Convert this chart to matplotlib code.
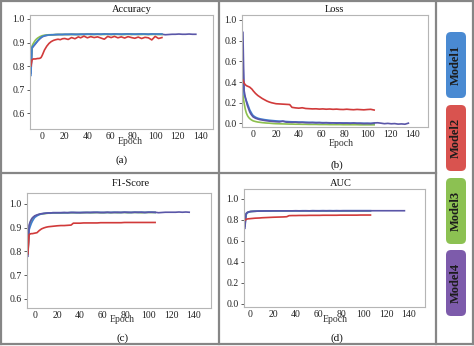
import matplotlib
matplotlib.use("Agg")
import matplotlib.pyplot as plt
from matplotlib.lines import Line2D
from matplotlib.patches import FancyBboxPatch

plt.rcParams['font.family'] = ['Liberation Serif', 'DejaVu Serif']

W, H = 474, 346   # output size in pixels (dpi 100)

# ---- epochs -------------------------------------------------------------
TAIL = [2, 4, 6, 8, 10, 12, 14, 16, 18, 20, 23, 26, 29, 32,
        34, 37, 40, 43, 46, 49, 52, 55, 58, 61, 64, 67, 70, 73, 76, 79,
        82, 85, 88, 91, 94, 97, 100, 103, 106]
TAIL_EXTRA = [109, 112, 115, 118, 121, 124, 127, 130, 133, 136]

ACC_HEAD = [-10, -9, -8, -7, -6, -5, -4, -3, -2, -1, 0]
LOSS_HEAD = [-9, -8, -7, -6, -5, -4, -3, -2, -1, 0]
F1_HEAD = [-6, -5, -4, -3, -2, -1, 0]
AUC_HEAD = [-5, -4, -3, -2, -1, 0]

# ---- accuracy -----------------------------------------------------------
acc_m1 = [0.76, 0.88, 0.885, 0.89, 0.896, 0.902, 0.908, 0.913, 0.918, 0.922, 0.925,
          0.929, 0.931, 0.932, 0.933, 0.933, 0.934, 0.934, 0.934, 0.934, 0.935,
          0.935, 0.935, 0.934, 0.935,
          0.935, 0.935, 0.936, 0.935, 0.935, 0.936, 0.935, 0.936, 0.936, 0.935,
          0.936, 0.936, 0.935, 0.936, 0.936, 0.936, 0.935, 0.936, 0.936, 0.936,
          0.935, 0.936, 0.936, 0.936, 0.936]
acc_m2 = [0.80, 0.826, 0.83, 0.83, 0.83, 0.831, 0.832, 0.832, 0.833, 0.836, 0.845,
          0.868, 0.884, 0.896, 0.904, 0.909, 0.912, 0.914, 0.912, 0.916, 0.917,
          0.913, 0.921, 0.916, 0.924,
          0.92, 0.927, 0.92, 0.925, 0.921, 0.924, 0.919, 0.914, 0.926, 0.921,
          0.926, 0.92, 0.924, 0.919, 0.925, 0.921, 0.918, 0.923, 0.917, 0.922,
          0.92, 0.911, 0.926, 0.917, 0.921]
acc_m3 = [0.80, 0.885, 0.895, 0.903, 0.91, 0.915, 0.919, 0.922, 0.925, 0.927, 0.929,
          0.931, 0.932, 0.933, 0.933, 0.933, 0.934, 0.934, 0.934, 0.934, 0.934,
          0.934, 0.934, 0.934, 0.934,
          0.934, 0.934, 0.935, 0.934, 0.934, 0.935, 0.934, 0.934, 0.935, 0.934,
          0.934, 0.935, 0.934, 0.934, 0.935, 0.934, 0.935, 0.934, 0.934, 0.935,
          0.934, 0.934, 0.935, 0.934, 0.934]
acc_m4 = [0.77, 0.875, 0.882, 0.888, 0.894, 0.90, 0.906, 0.911, 0.916, 0.92, 0.924,
          0.928, 0.93, 0.932, 0.932, 0.933, 0.933, 0.934, 0.934, 0.934, 0.934,
          0.934, 0.935, 0.935, 0.934,
          0.935, 0.935, 0.935, 0.936, 0.935, 0.935, 0.935, 0.936, 0.935, 0.935,
          0.936, 0.935, 0.935, 0.935, 0.936, 0.935, 0.935, 0.935, 0.936, 0.935,
          0.935, 0.936, 0.935, 0.935, 0.935,
          0.933, 0.934, 0.935, 0.935, 0.936, 0.935, 0.935, 0.936, 0.935, 0.935]

# ---- loss ---------------------------------------------------------------
loss_m1 = [0.6, 0.28, 0.25, 0.22, 0.19, 0.16, 0.13, 0.11, 0.09, 0.075,
           0.06, 0.05, 0.044, 0.04, 0.036, 0.033, 0.03, 0.028, 0.026, 0.024,
           0.022, 0.02, 0.018, 0.016,
           0.015, 0.014, 0.013, 0.012, 0.011, 0.01, 0.009, 0.009, 0.008, 0.007,
           0.007, 0.006, 0.005, 0.005, 0.004, 0.004, 0.003, 0.003, 0.002, 0.002,
           0.001, 0.001, 0.0, 0.0, 0.0]
loss_m2 = [0.42, 0.39, 0.375, 0.365, 0.36, 0.355, 0.35, 0.34, 0.33, 0.315,
           0.29, 0.27, 0.255, 0.24, 0.228, 0.216, 0.207, 0.2, 0.195, 0.19,
           0.188, 0.186, 0.184, 0.182,
           0.155, 0.15, 0.147, 0.151, 0.144, 0.142, 0.14, 0.141, 0.138, 0.14,
           0.137, 0.139, 0.136, 0.138, 0.135, 0.134, 0.137, 0.134, 0.132, 0.135,
           0.133, 0.131, 0.134, 0.136, 0.129]
loss_m3 = [0.27, 0.2, 0.14, 0.1, 0.075, 0.058, 0.046, 0.037, 0.03, 0.024,
           0.018, 0.013, 0.01, 0.007, 0.005, 0.003, 0.002, 0.0, -0.002, -0.003,
           -0.004, -0.005, -0.006, -0.007,
           -0.007, -0.008, -0.008, -0.009, -0.009, -0.01, -0.01, -0.01, -0.011, -0.011,
           -0.011, -0.012, -0.012, -0.012, -0.012, -0.013, -0.013, -0.013, -0.013, -0.013,
           -0.014, -0.014, -0.014, -0.014, -0.014]
loss_m4 = [0.88, 0.32, 0.26, 0.21, 0.17, 0.14, 0.11, 0.09, 0.075, 0.062,
           0.05, 0.042, 0.036, 0.032, 0.028, 0.025, 0.022, 0.02, 0.018, 0.016,
           0.014, 0.022, 0.012, 0.011,
           0.01, 0.012, 0.008, 0.01, 0.007, 0.006, 0.008, 0.005, 0.007, 0.004,
           0.006, 0.003, 0.005, 0.002, 0.004, 0.001, 0.003, 0.0, 0.004, 0.0,
           0.001, -0.002, 0.0, -0.002, 0.004,
           0.006, 0.002, -0.003, 0.0, -0.004, -0.002, -0.007, -0.005, -0.008, 0.002]

# ---- F1-score -----------------------------------------------------------
f1_m1 = [0.80, 0.89, 0.905, 0.918, 0.928, 0.936, 0.943,
         0.95, 0.955, 0.958, 0.96, 0.961, 0.962, 0.962, 0.963, 0.963, 0.963,
         0.963, 0.963, 0.963, 0.964,
         0.964, 0.963, 0.964, 0.964, 0.964, 0.964, 0.964, 0.965, 0.964, 0.964,
         0.964, 0.964, 0.965, 0.964, 0.964, 0.965, 0.964, 0.964, 0.965, 0.964,
         0.965, 0.964, 0.965, 0.965, 0.964]
f1_m2 = [0.79, 0.87, 0.874, 0.875, 0.875, 0.876, 0.877,
         0.879, 0.888, 0.895, 0.899, 0.902, 0.904, 0.905, 0.906, 0.907, 0.908,
         0.909, 0.909, 0.91, 0.911,
         0.919, 0.919, 0.919, 0.92, 0.92, 0.92, 0.92, 0.92, 0.921, 0.921,
         0.921, 0.921, 0.921, 0.921, 0.921, 0.922, 0.922, 0.922, 0.922, 0.922,
         0.922, 0.922, 0.922, 0.922, 0.922]
f1_m3 = [0.79, 0.90, 0.92, 0.93, 0.938, 0.944, 0.948,
         0.952, 0.956, 0.958, 0.959, 0.96, 0.961, 0.961, 0.962, 0.962, 0.962,
         0.962, 0.962, 0.963, 0.963,
         0.963, 0.963, 0.963, 0.963, 0.964, 0.963, 0.963, 0.964, 0.963, 0.963,
         0.964, 0.963, 0.964, 0.963, 0.964, 0.964, 0.963, 0.964, 0.964, 0.964,
         0.963, 0.964, 0.964, 0.964, 0.964]
f1_m4 = [0.78, 0.91, 0.925, 0.935, 0.942, 0.946, 0.95,
         0.954, 0.957, 0.959, 0.96, 0.961, 0.962, 0.962, 0.963, 0.963, 0.963,
         0.963, 0.964, 0.963, 0.964,
         0.964, 0.964, 0.963, 0.964, 0.964, 0.964, 0.965, 0.964, 0.964, 0.964,
         0.965, 0.964, 0.964, 0.965, 0.964, 0.965, 0.965, 0.964, 0.965, 0.965,
         0.965, 0.964, 0.965, 0.965, 0.965,
         0.963, 0.964, 0.965, 0.965, 0.965, 0.965, 0.966, 0.965, 0.966, 0.965]

# ---- AUC ----------------------------------------------------------------
auc_m1 = [0.74, 0.85, 0.865, 0.872, 0.876, 0.879,
          0.881, 0.882, 0.883, 0.884, 0.884, 0.885, 0.885, 0.885, 0.885, 0.886,
          0.886, 0.886, 0.886, 0.886,
          0.886, 0.886, 0.886, 0.886, 0.887, 0.886, 0.886, 0.887, 0.886, 0.887,
          0.887, 0.886, 0.887, 0.887, 0.887, 0.886, 0.887, 0.887, 0.887, 0.887,
          0.887, 0.887, 0.887, 0.887, 0.887]
auc_m2 = [0.795, 0.805, 0.808, 0.81, 0.811, 0.812,
          0.814, 0.816, 0.817, 0.818, 0.82, 0.821, 0.822, 0.823, 0.824, 0.825,
          0.826, 0.827, 0.828, 0.83,
          0.84, 0.841, 0.841, 0.842, 0.842, 0.842, 0.843, 0.843, 0.843, 0.843,
          0.844, 0.844, 0.844, 0.844, 0.844, 0.845, 0.845, 0.845, 0.845, 0.845,
          0.845, 0.846, 0.846, 0.846, 0.846]
auc_m3 = [0.76, 0.855, 0.868, 0.874, 0.877, 0.879,
          0.881, 0.882, 0.883, 0.883, 0.884, 0.884, 0.885, 0.885, 0.885, 0.885,
          0.885, 0.886, 0.886, 0.886,
          0.886, 0.886, 0.886, 0.886, 0.886, 0.886, 0.886, 0.886, 0.886, 0.886,
          0.886, 0.886, 0.886, 0.886, 0.886, 0.886, 0.886, 0.886, 0.886, 0.886,
          0.886, 0.886, 0.886, 0.886, 0.886]
auc_m4 = [0.72, 0.86, 0.87, 0.875, 0.878, 0.88,
          0.881, 0.882, 0.883, 0.884, 0.884, 0.885, 0.885, 0.885, 0.885, 0.886,
          0.886, 0.886, 0.886, 0.886,
          0.886, 0.886, 0.887, 0.886, 0.886, 0.887, 0.886, 0.887, 0.887, 0.886,
          0.887, 0.887, 0.887, 0.886, 0.887, 0.887, 0.887, 0.887, 0.887, 0.887,
          0.887, 0.887, 0.887, 0.887, 0.887,
          0.887, 0.887, 0.887, 0.887, 0.887, 0.887, 0.887, 0.887, 0.887, 0.887]

MODELS = ['Model1', 'Model2', 'Model3', 'Model4']
LINE_COLORS = {'Model1': '#3f7fcf', 'Model2': '#d13a3a',
               'Model3': '#8dbf4e', 'Model4': '#5a56a8'}
BOX_COLORS = ['#4a8ad2', '#d9534f', '#8cc152', '#7d5bab']

XTICKS = [0, 20, 40, 60, 80, 100, 120, 140]


def px_rect(l, t, r, b):
    return [l / W, 1 - b / H, (r - l) / W, (b - t) / H]


fig = plt.figure(figsize=(W / 100, H / 100), dpi=100)

panels = [
    dict(rect=(30, 15, 213, 129), head=ACC_HEAD, xlim=(-10.8, 151.2), ylim=(0.532, 1.017),
         yticks=[0.6, 0.7, 0.8, 0.9, 1.0], title='Accuracy', title_xy=(132, 9),
         epoch_xy=(130, 141), letter='(a)', letter_xy=(122, 160),
         series={'Model4': acc_m4, 'Model3': acc_m3, 'Model1': acc_m1, 'Model2': acc_m2}),
    dict(rect=(242, 15, 428, 127), head=LOSS_HEAD, xlim=(-9.8, 153.2), ylim=(-0.035, 1.048),
         yticks=[0.0, 0.2, 0.4, 0.6, 0.8, 1.0], title='Loss', title_xy=(334, 9),
         epoch_xy=(341, 143), letter='(b)', letter_xy=(337, 165),
         series={'Model3': loss_m3, 'Model1': loss_m1, 'Model4': loss_m4, 'Model2': loss_m2}),
    dict(rect=(27, 193, 211, 308), head=F1_HEAD, xlim=(-6.8, 155.2), ylim=(0.562, 1.046),
         yticks=[0.6, 0.7, 0.8, 0.9, 1.0], title='F1-Score', title_xy=(131, 184),
         epoch_xy=(122, 320), letter='(c)', letter_xy=(123, 338),
         series={'Model3': f1_m3, 'Model1': f1_m1, 'Model4': f1_m4, 'Model2': f1_m2}),
    dict(rect=(244, 189, 425, 307), head=AUC_HEAD, xlim=(-5.8, 154.2), ylim=(-0.03, 1.094),
         yticks=[0.0, 0.2, 0.4, 0.6, 0.8, 1.0], title='AUC', title_xy=(341, 184),
         epoch_xy=(335, 320), letter='(d)', letter_xy=(337, 338),
         series={'Model3': auc_m3, 'Model1': auc_m1, 'Model4': auc_m4, 'Model2': auc_m2}),
]

for p in panels:
    ax = fig.add_axes(px_rect(*p['rect']))
    short_ep = p['head'] + TAIL
    long_ep = short_ep + TAIL_EXTRA
    for name, vals in p['series'].items():
        ep = long_ep if len(vals) == len(long_ep) else short_ep
        ax.plot(ep, vals, color=LINE_COLORS[name], lw=1.2)
    ax.set_xlim(*p['xlim'])
    ax.set_ylim(*p['ylim'])
    ax.set_xticks(XTICKS)
    ax.set_yticks(p['yticks'])
    ax.set_yticklabels([f'{v:.1f}' for v in p['yticks']])
    for s in ax.spines.values():
        s.set_color('#b5b5b5')
        s.set_linewidth(0.8)
    ax.tick_params(axis='x', length=0, pad=2.5, labelsize=7, labelcolor='#222222')
    ax.tick_params(axis='y', length=2.2, width=0.6, color='#444444', pad=1.5,
                   labelsize=7, labelcolor='#222222')
    tx, ty = p['title_xy']
    fig.text(tx / W, 1 - ty / H, p['title'], ha='center', va='center',
             fontsize=7.5, color='#111111')
    ex, ey = p['epoch_xy']
    fig.text(ex / W, 1 - ey / H, 'Epoch', ha='center', va='center',
             fontsize=7, color='#333333')
    lx, ly = p['letter_xy']
    fig.text(lx / W, 1 - ly / H, p['letter'], ha='center', va='center',
             fontsize=8, color='#111111')

# cell borders
border = dict(color='#868686', lw=1.6, transform=fig.transFigure)
for x0, y0, x1, y1 in [(1, 1, 473, 1), (1, 344, 473, 344), (1, 1, 1, 344),
                       (473, 1, 473, 344), (219, 1, 219, 344), (436, 1, 436, 344),
                       (1, 173, 436, 173)]:
    fig.add_artist(Line2D([x0 / W, x1 / W], [1 - y0 / H, 1 - y1 / H], **border))

# model legend column
box_tops = [32, 105, 178, 250]
box_h = 66
for name, col, top in zip(MODELS, BOX_COLORS, box_tops):
    bx = FancyBboxPatch((446 / 100, (H - top - box_h) / 100), 20 / 100, box_h / 100,
                        boxstyle='round,pad=0,rounding_size=0.05',
                        transform=fig.dpi_scale_trans, facecolor=col,
                        edgecolor='none')
    fig.add_artist(bx)
    fig.text(456 / W, 1 - (top + box_h / 2) / H, name, rotation=90,
             ha='center', va='center', fontsize=9, fontweight='bold',
             color='#1c1c1c')

fig.savefig('out.png', dpi=100)
